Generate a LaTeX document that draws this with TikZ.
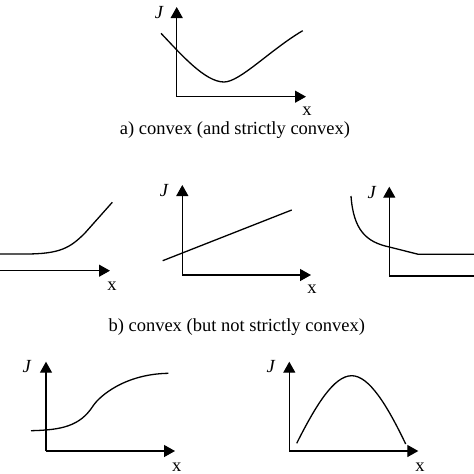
\documentclass[tikz,border=0pt]{standalone}
\usepackage{fontspec}
\setmainfont{Liberation Serif}
\usetikzlibrary{arrows.meta}
\begin{document}
\begin{tikzpicture}[x=1pt,y=-1pt,
  axis/.style={line width=1.3pt,-{Triangle[length=11pt,width=12pt]}},
  curve/.style={line width=1.3pt,line join=round},
  lbl/.style={inner sep=0pt,font=\fontsize{18.5}{20}\selectfont},
  jlbl/.style={lbl,font=\fontsize{18.5}{20}\selectfont\itshape}]
\useasboundingbox (0,0) rectangle (474,474);
\clip (0,0) rectangle (474,474);
% ---------- a) ----------
\coordinate (aO) at (176.7,96.7);
\coordinate (aY) at (176.7,7);
\coordinate (aX) at (306,96.7);
\draw[axis] (aO) -- (aY);
\draw[axis] (aO) -- (aX);
\node[jlbl] (aJ) at (159,13) {J};
\node[lbl] (ax) at (307,111) {x};
\draw[curve] (161,33.3) .. controls (181,54.3) and (205,82) .. (224,82)
  .. controls (240,82) and (270,50) .. (302.7,30.7);
\node[lbl] (capA) at (235,130) {a) convex (and strictly convex)};
% ---------- b1 ----------
\coordinate (b1L) at (-5,270.7);
\coordinate (b1X) at (110,270.7);
\draw[axis] (b1L) -- (b1X);
\node[lbl] (b1x) at (112,286) {x};
\draw[curve] (-5,254) -- (25,254) .. controls (60,254) and (70,248) .. (85,233) -- (112.3,202.3);
% ---------- b2 ----------
\coordinate (b2O) at (182.3,275);
\coordinate (b2Y) at (182.3,185);
\coordinate (b2X) at (311,275);
\draw[axis] (b2O) -- (b2Y);
\draw[axis] (b2O) -- (b2X);
\node[jlbl] (b2J) at (164,191) {J};
\node[lbl] (b2x) at (312,289) {x};
\coordinate (b2s) at (162.7,260.7);
\coordinate (b2e) at (291.7,210);
\draw[curve] (b2s) -- (b2e);
% ---------- b3 ----------
\coordinate (b3O) at (389.3,276);
\coordinate (b3Y) at (389.3,186.7);
\coordinate (b3X) at (490,276);
\draw[axis] (b3O) -- (b3Y);
\draw[line width=1.3pt] (b3O) -- (b3X);
\node[jlbl] (b3J) at (371.7,193) {J};
\draw[curve] (351,196) .. controls (353.5,230) and (366,242) .. (389.3,247) -- (418.3,254.3) -- (490,254.3);
\node[lbl] (capB) at (236.7,327) {b) convex (but not strictly convex)};
% ---------- c1 ----------
\coordinate (c1O) at (46,451);
\coordinate (c1Y) at (46,361.7);
\coordinate (c1X) at (175,451);
\draw[axis] (c1O) -- (c1Y);
\draw[axis] (c1O) -- (c1X);
\node[jlbl] (c1J) at (26.7,367) {J};
\node[lbl] (c1x) at (176.7,467) {x};
\draw[curve] (31,430.7) .. controls (62,430) and (80,426) .. (93,406)
  .. controls (99.5,396) and (125,374) .. (168.3,373.3);
% ---------- c2 ----------
\coordinate (c2O) at (289.3,451);
\coordinate (c2Y) at (289.3,361.7);
\coordinate (c2X) at (418.3,451);
\draw[axis] (c2O) -- (c2Y);
\draw[axis] (c2O) -- (c2X);
\node[jlbl] (c2J) at (270.7,367) {J};
\node[lbl] (c2x) at (420,467) {x};
\draw[curve] (296.7,443.3) .. controls (316,405) and (334,375.7) .. (351.7,375.7)
  .. controls (369,375.7) and (387,405) .. (405.7,444);
\end{tikzpicture}
\end{document}
